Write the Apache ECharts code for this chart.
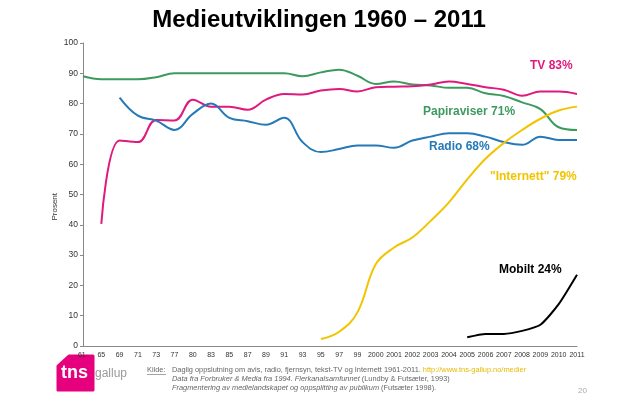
<!DOCTYPE html>
<html>
<head>
<meta charset="utf-8">
<script src="https://cdn.jsdelivr.net/npm/echarts@6/dist/echarts.min.js"></script>
<style>
  html, body { margin: 0; padding: 0; background: #fff; }
  #chart { width: 638px; height: 399px; }
</style>
</head>
<body>
<div id="chart"></div>
<script>
// kategorier (år)
const years = ['61-', '65', '69', '71', '73', '77', '80', '83', '85', '87', '89', '91', '93', '95', '97', '99',
  '2000', '2001', '2002', '2003', '2004', '2005', '2006', '2007', '2008', '2009', '2010', '2011'];

// daglig oppslutning, prosent
const papiraviser = [89, 88, 88, 88, 88.7, 90, 90, 90, 90, 90, 90, 90, 89, 90.3, 91.2, 89.2,
  86.5, 87.3, 86.3, 86, 85.2, 85.2, 83.4, 82.5, 80.4, 78.2, 72.2, 71.3];
const tv = [null, 40.3, 67.8, 67.3, 74.6, 74.4, 81.3, 79, 79, 78, 81.3, 83.2, 83, 84.3, 84.8, 84,
  85.4, 85.6, 85.7, 86.3, 87.3, 86.5, 85.4, 84.6, 82.6, 84, 84, 83.2];
const radio = [null, null, 82, 76, 74.4, 71.3, 76.6, 80, 75.3, 74.2, 73, 75.3, 67.3, 64, 65, 66.2,
  66.2, 65.4, 67.8, 69.1, 70.2, 70.2, 69.1, 67.3, 66.4, 69.1, 68, 68];
const internett = [null, null, null, null, null, null, null, null, null, null, null, null, null,
  2.3, 4.7, 11.1, 27, 32.5, 35.8, 41.3, 47.4, 55, 61.8, 67, 71.3, 75, 77.7, 79];
const mobilt = [null, null, null, null, null, null, null, null, null, null, null, null, null, null,
  null, null, null, null, null, null, null, 2.9, 4, 4, 5, 7, 13.8, 23.5];

const yTicks = [0, 10, 20, 30, 40, 50, 60, 70, 80, 90, 100];

const FONT = '"Liberation Sans", Arial, sans-serif';

const chart = echarts.init(document.getElementById('chart'));

function line(name, data, color, smooth) {
  return {
    name: name,
    type: 'line',
    data: data,
    smooth: smooth,
    showSymbol: false,
    symbol: 'none',
    lineStyle: { color: color, width: 2 },
    itemStyle: { color: color }
  };
}

function label(text, x, y, color) {
  return {
    type: 'text', left: x, top: y - 7,
    style: { text: text, fill: color, font: 'bold 12px ' + FONT }
  };
}

const option = {
  animation: false,
  backgroundColor: '#fff',
  title: {
    text: 'Medieutviklingen 1960 – 2011',
    left: 'center',
    top: 3,
    textStyle: { fontFamily: FONT, fontSize: 24, fontWeight: 'bold', color: '#000' }
  },
  grid: { left: 83, right: 61, top: 43, bottom: 53 },
  xAxis: {
    type: 'category',
    data: years,
    boundaryGap: false,
    axisLine: { lineStyle: { color: '#888', width: 1 } },
    axisTick: { show: false },
    axisLabel: { interval: 0, fontSize: 7, color: '#333', margin: 6, fontFamily: FONT }
  },
  yAxis: {
    type: 'value',
    min: yTicks[0],
    max: yTicks[yTicks.length - 1],
    interval: 10,
    splitLine: { show: false },
    axisLine: { show: true, lineStyle: { color: '#888', width: 1 } },
    axisTick: { show: true, length: 3, lineStyle: { color: '#888' } },
    axisLabel: { fontSize: 8.5, color: '#333', margin: 5, fontFamily: FONT }
  },
  series: [
    line('Papiraviser', papiraviser, '#3d9a5e', 0.4),
    line('TV', tv, '#e0197f', 0.4),
    line('Radio', radio, '#2479b6', 0.4),
    line('Internett', internett, '#f2c400', 0.4),
    line('Mobilt', mobilt, '#000', 0.2)
  ],
  graphic: [
    label('TV 83%', 530, 67, '#e0197f'),
    label('Papiraviser 71%', 423, 113, '#3d9a5e'),
    label('Radio 68%', 429, 148, '#2479b6'),
    label('"Internett" 79%', 490, 178, '#f2c400'),
    label('Mobilt 24%', 499, 271, '#000'),
    {
      type: 'text', left: 51, top: 193, rotation: Math.PI / 2,
      style: { text: 'Prosent', fill: '#333', font: '8px ' + FONT }
    },
    // tns gallup logo
    {
      type: 'polygon',
      shape: { points: [[58, 366], [69, 356], [93, 356], [93, 390], [58, 390]] },
      style: { fill: '#e6007e', stroke: '#e6007e', lineWidth: 3, lineJoin: 'round' }
    },
    {
      type: 'text', left: 61, top: 364,
      style: { text: 'tns', fill: '#fff', font: 'bold 18px ' + FONT }
    },
    {
      type: 'text', left: 95, top: 368,
      style: { text: 'gallup', fill: '#9a9a9a', font: '12px ' + FONT }
    },
    // kilde
    {
      type: 'text', left: 147, top: 366,
      style: { text: 'Kilde:', fill: '#666', font: '7.4px ' + FONT }
    },
    {
      type: 'line', shape: { x1: 147, y1: 374.5, x2: 166, y2: 374.5 },
      style: { stroke: '#666', lineWidth: 0.6 }
    },
    {
      type: 'text', left: 172, top: 366,
      style: {
        text: '{n|Daglig oppslutning om avis, radio, fjernsyn, tekst-TV og Internett 1961-2011. }{l|http://www.tns-gallup.no/medier}\n' +
          '{i|Data fra Forbruker & Media fra 1994. Flerkanalsamfunnet}{n| (Lundby & Futsæter, 1993)}\n' +
          '{i|Fragmentering av medielandskapet og oppsplitting av publikum}{n| (Futsæter 1998).}',
        rich: {
          n: { fill: '#666', fontSize: 7.4, fontFamily: FONT, lineHeight: 9 },
          i: { fill: '#666', fontSize: 7.4, fontFamily: FONT, fontStyle: 'italic', lineHeight: 9 },
          l: { fill: '#e8b800', fontSize: 7.4, fontFamily: FONT, lineHeight: 9 }
        }
      }
    },
    {
      type: 'text', left: 578, top: 387,
      style: { text: '20', fill: '#aaa', font: '8px ' + FONT }
    }
  ]
};

chart.setOption(option);
</script>
</body>
</html>
